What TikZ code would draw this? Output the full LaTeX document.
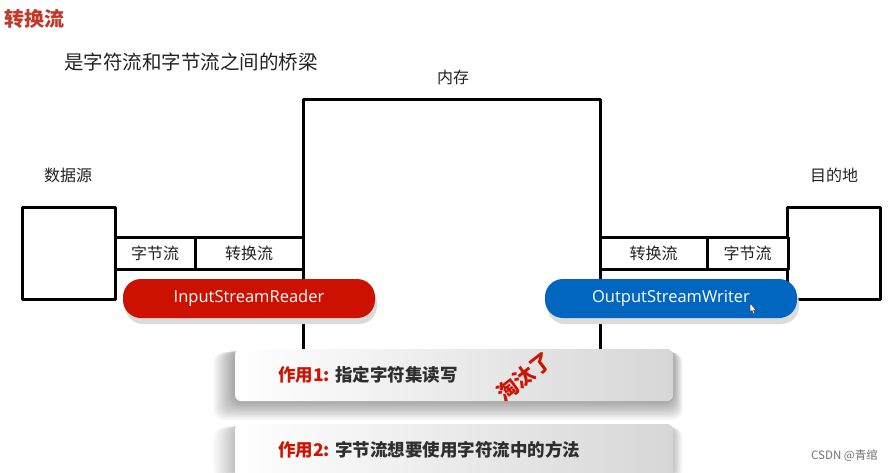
\documentclass[tikz,border=0pt]{standalone}
\usepackage{fontspec}
\setmainfont{Noto Sans CJK SC}
\newfontfamily\latinfont{Open Sans}
\usetikzlibrary{shapes.geometric,calc}
\definecolor{txt}{HTML}{222222}
\definecolor{titlered}{HTML}{C0392B}
\definecolor{pillred}{HTML}{CC1100}
\definecolor{pillblue}{HTML}{0066C0}
\definecolor{cardred}{HTML}{CC1505}
\definecolor{cardtxt}{HTML}{2E2E2E}
\tikzset{
  x=1pt,y=-1pt,
  wire/.style={draw=black,line width=3pt,line join=round},
  databox/.style={wire,fill=white,minimum width=93pt,minimum height=92pt,inner sep=0pt,outer sep=0pt},
  flowbox/.style={wire,fill=white,minimum height=32pt,inner sep=0pt,outer sep=0pt,font=\fontsize{16}{16}\selectfont,text=txt},
  label/.style={inner sep=0pt,text=txt,font=\fontsize{16}{16}\selectfont},
  pill/.style={rounded corners=18pt,minimum width=252pt,minimum height=39pt,inner sep=0pt,text=white,font=\latinfont\fontsize{16.5}{16.5}\selectfont},
  card/.style={rounded corners=6pt,left color=white,right color=black!16,minimum width=438pt,inner sep=0pt,outer sep=0pt},
  cardtext/.style={inner sep=0pt,anchor=west,font=\bfseries\fontsize{17.5}{17.5}\selectfont,text=cardtxt},
}
\begin{document}
\begin{tikzpicture}
\useasboundingbox (0,0) rectangle (894,472);
\fill[white] (0,0) rectangle (894,472);
\begin{scope}
\clip (0,0) rectangle (894,472);
% memory outline
\coordinate (memBL) at (303,349);
\coordinate (memTL) at (303,99);
\coordinate (memTR) at (600,99);
\coordinate (memBR) at (600,349);
\draw[wire] (memBL) -- (memTL) -- (memTR) -- (memBR);
% boxes
\node[databox] (source) at (68.5,253) {};
\node[databox] (dest) at (834,253) {};
\node[flowbox,minimum width=80pt] (byteL) at (155,253) {字节流};
\node[flowbox,minimum width=108pt] (convL) at (249,253) {转换流};
\node[flowbox,minimum width=107pt] (convR) at (653.5,253) {转换流};
\node[flowbox,minimum width=81pt] (byteR) at (747.5,253) {字节流};
% labels
\node[inner sep=0pt,font=\bfseries\fontsize{20}{20}\selectfont,text=titlered,anchor=west] (title) at (4,19) {转换流};
\node[inner sep=0pt,font=\fontsize{19.5}{20}\selectfont,text=txt,anchor=west] (sub) at (64,62) {是字符流和字节流之间的桥梁};
\node[label] (mem) at (453,77) {内存};
\node[label] (srcl) at (68,175) {数据源};
\node[label] (dstl) at (834,175) {目的地};
% pills
\fill[black!14,rounded corners=18pt] (125,285) rectangle (377,324);
\fill[black!14,rounded corners=18pt] (547,285) rectangle (799,324);
\node[pill,fill=pillred] (reader) at (249,298.5) {InputStreamReader};
\node[pill,fill=pillblue] (writer) at (671,298.5) {OutputStreamWriter};
% cursor
\filldraw[fill=white,draw=black!75,line width=.5pt] (750,303) -- (750,312) -- (752,310.5) -- (753.5,314) -- (755,313.5) -- (753.5,310) -- (756,310) -- cycle;
% card shadows
\foreach \i in {1,...,12}{
  \fill[black,opacity=0.03,rounded corners=10pt] ({235-\i*1.8},{349+\i*0.3}) rectangle ({673+\i*0.8},{401+\i*1.6});
  \fill[black,opacity=0.02,rounded corners=10pt] ({235-\i*1.8},{424+\i*0.3}) rectangle ({673+\i*0.8},{480});
}
% cards
\node[card,minimum height=52pt] (card1) at (454,375) {};
\node[card,minimum height=56pt] (card2) at (454,452) {};
\node[cardtext] (t1) at (278,374.5) {\textcolor{cardred}{作用1:} 指定字符集读写};
\node[cardtext] (t2) at (278,450) {\textcolor{cardred}{作用2:} 字节流想要使用字符流中的方法};
\node[inner sep=0pt,rotate=38,text=cardred,font=\bfseries\fontsize{21}{21}\selectfont] (out) at (524,377) {淘汰了};
\node[inner sep=0pt,text=black!55,font=\fontsize{11.5}{12}\selectfont,anchor=west] (wm) at (811,456) {CSDN @青绾};
\end{scope}
\end{tikzpicture}
\end{document}
